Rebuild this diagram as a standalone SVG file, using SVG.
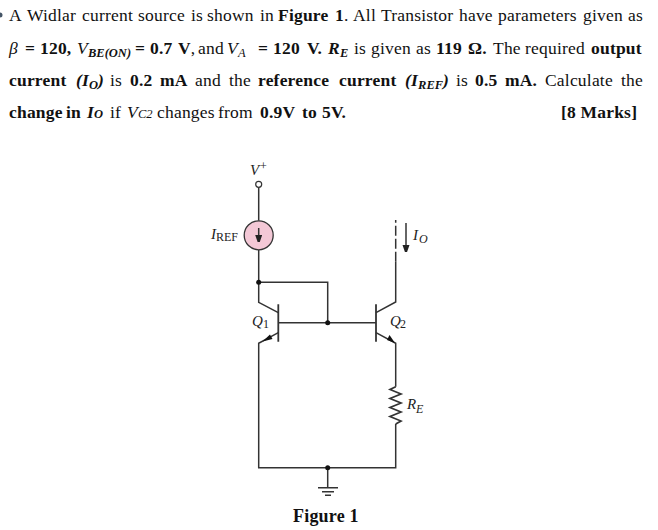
<svg xmlns="http://www.w3.org/2000/svg" width="658" height="530" viewBox="0 0 658 530">
<style>
text{font-family:"Liberation Serif","Times New Roman",serif;fill:#111}
.t{font-size:17.5px;letter-spacing:.2px}
.b{font-weight:bold}
.i{font-style:italic}
.s{font-size:12.5px;font-style:italic;letter-spacing:0}
.w{fill:none;stroke:#333;stroke-width:1.5}
.d{fill:#111}
.l{font-size:15px;font-style:italic;fill:#222}
.ls{font-size:12px;fill:#222}
</style>
<defs>
<marker id="ah" markerWidth="7" markerHeight="10" refX="7" refY="3.5" orient="auto" markerUnits="userSpaceOnUse"><path d="M0,0L10,3.5L0,7z" fill="#222"/></marker>
</defs>
<rect width="658" height="530" fill="#fff"/>
<circle cx="0" cy="15" r="2.5" fill="#456"/>
<g id="problem-text">
<text class="t" y="21"><tspan x="9">A</tspan> <tspan x="27">Widlar</tspan> <tspan x="82">current</tspan> <tspan x="138">source</tspan> <tspan x="191">is</tspan> <tspan x="207">shown</tspan> <tspan x="260">in</tspan> <tspan x="278" class="b">Figure</tspan> <tspan x="335" class="b">1</tspan><tspan>.</tspan> <tspan x="353">All</tspan> <tspan x="381">Transistor</tspan> <tspan x="459">have</tspan> <tspan x="498">parameters</tspan> <tspan x="583">given</tspan> <tspan x="628">as</tspan></text>
<text class="t" y="54"><tspan x="9" class="i">β</tspan> <tspan x="25" class="b">=</tspan> <tspan x="40" class="b">120,</tspan> <tspan x="77" class="i">V</tspan><tspan x="88" class="s b" dy="3">BE(ON)</tspan><tspan x="135" dy="-3" class="b">=</tspan> <tspan x="150" class="b">0.7</tspan> <tspan x="178" class="b">V</tspan><tspan>,</tspan> <tspan x="198">and</tspan> <tspan x="227" class="i">V</tspan><tspan x="238" class="s" dy="3">A</tspan><tspan x="258" class="b" dy="-3">=</tspan> <tspan x="273" class="b">120</tspan> <tspan x="307" class="b">V.</tspan> <tspan x="328" class="i b">R</tspan><tspan x="340" class="s b" dy="3">E</tspan><tspan x="354" dy="-3">is</tspan> <tspan x="371">given</tspan> <tspan x="416">as</tspan> <tspan x="436" class="b">119</tspan> <tspan x="468" class="b">Ω.</tspan> <tspan x="493">The</tspan> <tspan x="525">required</tspan> <tspan x="591" class="b">output</tspan></text>
<text class="t" y="86"><tspan x="9" class="b">current</tspan> <tspan x="76" class="b i">(I</tspan><tspan class="s b" dy="3">O</tspan><tspan class="b i" dy="-3">)</tspan> <tspan x="110">is</tspan> <tspan x="130" class="b">0.2</tspan> <tspan x="160" class="b">mA</tspan> <tspan x="195">and</tspan> <tspan x="229">the</tspan> <tspan x="258" class="b">reference</tspan> <tspan x="339" class="b">current</tspan> <tspan x="405" class="b i">(I</tspan><tspan class="s b" dy="3">REF</tspan><tspan class="b i" dy="-3">)</tspan> <tspan x="456">is</tspan> <tspan x="475" class="b">0.5</tspan> <tspan x="505" class="b">mA.</tspan> <tspan x="545">Calculate</tspan> <tspan x="621">the</tspan></text>
<text class="t" y="118"><tspan x="9" class="b">change</tspan> <tspan x="66" class="b">in</tspan> <tspan x="87" class="b i">I</tspan><tspan x="94" class="s b">O</tspan> <tspan x="110">if</tspan> <tspan x="127" class="i">V</tspan><tspan x="138" class="s">C2</tspan> <tspan x="157">changes</tspan> <tspan x="218">from</tspan> <tspan x="260" class="b">0.9V</tspan> <tspan x="302" class="b">to</tspan> <tspan x="322" class="b">5V.</tspan></text>
<text class="t b" x="561" y="118">[8 Marks]</text>
</g>
<g id="connectors">
<path class="w" d="M258.7 187.3V220.8M258.7 249.8V302.3L278.3 312.7M258.7 282.3H327.7V322.7M278.3 322.7H376"/>
<path class="w" style="stroke-width:1.8" d="M278.3 304.3V341.7M376 304.3V341.7"/>
<path class="w" d="M278.3 332.7L258.7 343.3V467.7H395.7V424"/>
<path class="w" d="M376 312.7L395.7 302V261.7"/>
<path class="w" d="M395.7 261.7V220" stroke-dasharray="10 3"/>
<path class="w" d="M376 332.7L395.7 343.3V386.7"/>
<path class="w" style="stroke-width:1.7" d="M395.7 386.7L390 389.5L401 394L390 398.5L401 403L390 407.5L401 412L390 416.5L401 421L395.7 424"/>
<path class="w" d="M327.7 467.7V487.7"/>
<path class="w" d="M318 487.7H338M322 491.7H334M325 495.2H331"/>
<path class="d" d="M262.5 341.5L270 334.5L272.5 339z"/>
<path class="d" d="M395 343L387 340L389.5 335z"/>
<path class="w" d="M406 223V252" marker-end="url(#ah)"/>
</g>
<g id="vplus"><circle cx="258.7" cy="184.3" r="3" fill="#fff" stroke="#333" stroke-width="1.2"/>
<text class="l" x="250" y="175">V</text><text class="ls" x="260" y="170">+</text></g>
<g id="iref"><circle cx="258.7" cy="235.3" r="14.5" fill="#f3c8d6" stroke="#333" stroke-width="1.3"/>
<path class="w" d="M258.7 228V242" marker-end="url(#ah)"/>
<text class="l" x="211" y="239">I</text><text class="ls" x="216" y="241">REF</text></g>
<g id="j1"><circle class="d" cx="258.7" cy="282.3" r="2.5"/></g>
<g id="j2"><circle class="d" cx="327.7" cy="322.7" r="2.5"/></g>
<g id="j3"><circle class="d" cx="327.7" cy="467.7" r="2.5"/></g>
<g id="q1"><text class="l" x="252" y="326">Q</text><text class="ls" x="263" y="328">1</text></g>
<g id="q2"><text class="l" x="390" y="326">Q</text><text class="ls" x="400" y="328">2</text></g>
<g id="io"><text class="l" x="413" y="240">I</text><text class="ls" x="419" y="243" font-style="italic">O</text></g>
<g id="re"><text class="l" x="407" y="409">R</text><text class="ls" x="416" y="413" font-style="italic">E</text></g>
<text class="t b" x="293" y="522" style="font-size:18px">Figure 1</text>
</svg>
